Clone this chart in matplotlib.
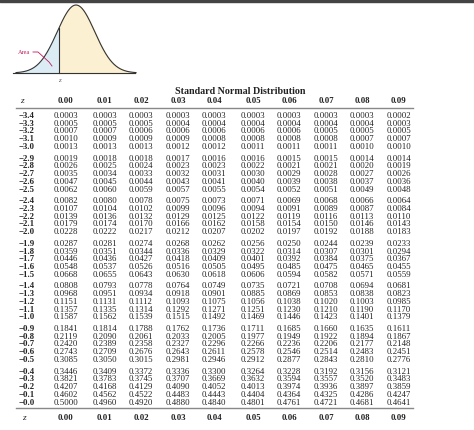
import numpy as np
import matplotlib
matplotlib.use("Agg")
import matplotlib.pyplot as plt

title = "Standard Normal Distribution"
col_labels = ["0.00", "0.01", "0.02", "0.03", "0.04", "0.05", "0.06", "0.07", "0.08", "0.09"]
row_labels = ["\u22123.4", "\u22123.3", "\u22123.2", "\u22123.1", "\u22123.0",
              "\u22122.9", "\u22122.8", "\u22122.7", "\u22122.6", "\u22122.5",
              "\u22122.4", "\u22122.3", "\u22122.2", "\u22122.1", "\u22122.0",
              "\u22121.9", "\u22121.8", "\u22121.7", "\u22121.6", "\u22121.5",
              "\u22121.4", "\u22121.3", "\u22121.2", "\u22121.1", "\u22121.0",
              "\u22120.9", "\u22120.8", "\u22120.7", "\u22120.6", "\u22120.5",
              "\u22120.4", "\u22120.3", "\u22120.2", "\u22120.1", "\u22120.0"]
values = [
 [.0003,.0003,.0003,.0003,.0003,.0003,.0003,.0003,.0003,.0002],
 [.0005,.0005,.0005,.0004,.0004,.0004,.0004,.0004,.0004,.0003],
 [.0007,.0007,.0006,.0006,.0006,.0006,.0006,.0005,.0005,.0005],
 [.0010,.0009,.0009,.0009,.0008,.0008,.0008,.0008,.0007,.0007],
 [.0013,.0013,.0013,.0012,.0012,.0011,.0011,.0011,.0010,.0010],
 [.0019,.0018,.0018,.0017,.0016,.0016,.0015,.0015,.0014,.0014],
 [.0026,.0025,.0024,.0023,.0023,.0022,.0021,.0021,.0020,.0019],
 [.0035,.0034,.0033,.0032,.0031,.0030,.0029,.0028,.0027,.0026],
 [.0047,.0045,.0044,.0043,.0041,.0040,.0039,.0038,.0037,.0036],
 [.0062,.0060,.0059,.0057,.0055,.0054,.0052,.0051,.0049,.0048],
 [.0082,.0080,.0078,.0075,.0073,.0071,.0069,.0068,.0066,.0064],
 [.0107,.0104,.0102,.0099,.0096,.0094,.0091,.0089,.0087,.0084],
 [.0139,.0136,.0132,.0129,.0125,.0122,.0119,.0116,.0113,.0110],
 [.0179,.0174,.0170,.0166,.0162,.0158,.0154,.0150,.0146,.0143],
 [.0228,.0222,.0217,.0212,.0207,.0202,.0197,.0192,.0188,.0183],
 [.0287,.0281,.0274,.0268,.0262,.0256,.0250,.0244,.0239,.0233],
 [.0359,.0351,.0344,.0336,.0329,.0322,.0314,.0307,.0301,.0294],
 [.0446,.0436,.0427,.0418,.0409,.0401,.0392,.0384,.0375,.0367],
 [.0548,.0537,.0526,.0516,.0505,.0495,.0485,.0475,.0465,.0455],
 [.0668,.0655,.0643,.0630,.0618,.0606,.0594,.0582,.0571,.0559],
 [.0808,.0793,.0778,.0764,.0749,.0735,.0721,.0708,.0694,.0681],
 [.0968,.0951,.0934,.0918,.0901,.0885,.0869,.0853,.0838,.0823],
 [.1151,.1131,.1112,.1093,.1075,.1056,.1038,.1020,.1003,.0985],
 [.1357,.1335,.1314,.1292,.1271,.1251,.1230,.1210,.1190,.1170],
 [.1587,.1562,.1539,.1515,.1492,.1469,.1446,.1423,.1401,.1379],
 [.1841,.1814,.1788,.1762,.1736,.1711,.1685,.1660,.1635,.1611],
 [.2119,.2090,.2061,.2033,.2005,.1977,.1949,.1922,.1894,.1867],
 [.2420,.2389,.2358,.2327,.2296,.2266,.2236,.2206,.2177,.2148],
 [.2743,.2709,.2676,.2643,.2611,.2578,.2546,.2514,.2483,.2451],
 [.3085,.3050,.3015,.2981,.2946,.2912,.2877,.2843,.2810,.2776],
 [.3446,.3409,.3372,.3336,.3300,.3264,.3228,.3192,.3156,.3121],
 [.3821,.3783,.3745,.3707,.3669,.3632,.3594,.3557,.3520,.3483],
 [.4207,.4168,.4129,.4090,.4052,.4013,.3974,.3936,.3897,.3859],
 [.4602,.4562,.4522,.4483,.4443,.4404,.4364,.4325,.4286,.4247],
 [.5000,.4960,.4920,.4880,.4840,.4801,.4761,.4721,.4681,.4641],
]

W, H = 474, 431
fig = plt.figure(figsize=(W/100, H/100), dpi=100)
ax = fig.add_axes([0, 0, 1, 1])
ax.set_xlim(0, W); ax.set_ylim(H, 0); ax.axis("off")
serif = "Liberation Serif"
txt = "#222222"

# top bar
ax.fill_between([0, W], 0, 2.5, color="#444444")

# curve illustration
x0, x1, base, peak, cx = 15, 135, 74, 6, 76
zs = np.linspace(-3.2, 3.2, 300)
xs = cx + zs * (x1 - x0) / 6.4
pdf = np.exp(-zs**2 / 2)
ys = base - pdf * (base - peak)
zc = -0.9
xz = cx + zc * (x1 - x0) / 6.4
m = xs <= xz
ax.fill_between(xs[m], ys[m], base, color="#dcecf5")
ax.fill_between(xs[~m], ys[~m], base, color="#fbf0d2")
ax.plot(xs, ys, color="#333333", lw=0.8)
ax.plot([x0 - 2, x1], [base, base], color="#333333", lw=0.8)
yz = base - np.exp(-zc**2 / 2) * (base - peak)
ax.plot([xz, xz], [base, yz], color="#333333", lw=0.8)
ax.plot([33, 38, 49, 52], [53, 53, 63, 67], color="#c2185b", lw=0.6)
ax.text(18, 53, "Area", color="#c2185b", fontsize=4.5, va="center", family=serif)
ax.text(xz, 81, "z", fontsize=5, ha="center", va="center", family=serif, style="italic", color="#555")

# table
col_x = [66, 105, 141, 178, 214, 253, 289, 326, 362, 399]
fs = 6.3
ax.text(240, 91, title, ha="center", va="center", fontsize=7.2, weight="bold", family=serif, color=txt)
ax.text(20, 101, "z", ha="left", va="center", fontsize=fs+0.5, style="italic", family=serif, color=txt)
ax.text(22, 418, "z", ha="left", va="center", fontsize=fs+0.5, style="italic", family=serif, color=txt)
for j, c in enumerate(col_labels):
    ax.text(col_x[j], 101, c, ha="center", va="center", fontsize=fs, weight="bold", family=serif, color=txt)
    ax.text(col_x[j], 418, c, ha="center", va="center", fontsize=fs, weight="bold", family=serif, color=txt)
ax.plot([16, 413], [109, 109], color="#888888", lw=1.0)
ax.plot([16, 413], [409, 409], color="#888888", lw=1.0)

for i, (lab, row) in enumerate(zip(row_labels, values)):
    y = 116 + (i // 5) * 42.6 + (i % 5) * 7.75
    ax.text(19, y, lab, ha="left", va="center", fontsize=fs, weight="bold", family=serif, color=txt)
    for j, v in enumerate(row):
        ax.text(col_x[j], y, f"{v:.4f}", ha="center", va="center", fontsize=fs, family=serif, color=txt)

fig.savefig("out.png", dpi=100)
